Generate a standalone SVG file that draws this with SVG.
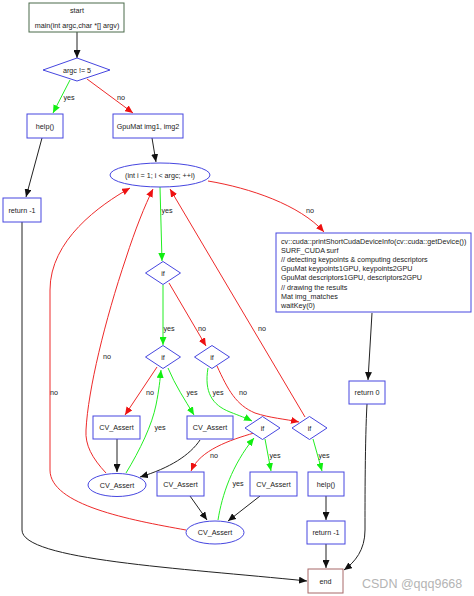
<svg xmlns="http://www.w3.org/2000/svg" width="474" height="596" viewBox="0 0 474 596">
<style>
text{font-family:"Liberation Sans",Arial,sans-serif;font-size:7.2px;fill:#222;}
.c{text-anchor:middle;}
.n{fill:#fff;stroke:#4646e0;stroke-width:1;}
.e{fill:none;stroke-width:1;}
.k{stroke:#222;marker-end:url(#ak);}
.g{stroke:#22ee22;marker-end:url(#ag);}
.r{stroke:#ee2a2a;marker-end:url(#ar);}
.wm{font-size:12.5px;fill:#b4b4b4;}
</style>
<defs>
<marker id="ak" markerUnits="userSpaceOnUse" markerWidth="9" markerHeight="7" refX="8" refY="3.5" orient="auto"><path d="M0,0 L8,3.5 L0,7 z" fill="#111"/></marker>
<marker id="ag" markerUnits="userSpaceOnUse" markerWidth="9" markerHeight="7" refX="8" refY="3.5" orient="auto"><path d="M0,0 L8,3.5 L0,7 z" fill="#11ee11"/></marker>
<marker id="ar" markerUnits="userSpaceOnUse" markerWidth="9" markerHeight="7" refX="8" refY="3.5" orient="auto"><path d="M0,0 L8,3.5 L0,7 z" fill="#ee1111"/></marker>
</defs>
<rect width="474" height="596" fill="#fff"/>
<g id="connectors">
<path class="e k" d="M77,32 L77,58"/>
<path class="e g" d="M70,80 L53,113"/>
<path class="e r" d="M87,79 L133,113"/>
<path class="e k" d="M42,138 L26,197"/>
<path class="e k" d="M22,222 L22,530 C22,560 180,568 307,581"/>
<path class="e k" d="M152,138 L156,162"/>
<path class="e g" d="M160,187 L162,261"/>
<path class="e r" d="M208,181 C250,188 300,205 324,232"/>
<path class="e g" d="M163,285 L163,345"/>
<path class="e r" d="M169,283 L206,346"/>
<path class="e r" d="M157,367 L125,415"/>
<path class="e g" d="M168,368 C175,385 185,400 194,415"/>
<path class="e g" d="M208,368 C204,392 212,405 230,412 C240,416 246,418 252,421"/>
<path class="e r" d="M217,366 C228,390 236,405 255,413 C270,418 285,419 299,422"/>
<path class="e k" d="M117,439 L117,472"/>
<path class="e k" d="M200,440 C190,455 170,468 140,477"/>
<path class="e g" d="M126,473 C140,450 152,425 156,405 C159,390 160,380 161,370"/>
<path class="e r" d="M106,473 C92,458 85,445 86,430 C88,390 105,320 126,258 C135,230 145,205 153,189"/>
<path class="e r" d="M254,433 C230,440 200,450 191,471"/>
<path class="e g" d="M265,439 L271,471"/>
<path class="e k" d="M190,496 L207,520"/>
<path class="e k" d="M260,496 L228,521"/>
<path class="e g" d="M218,520 C222,495 232,465 254,438"/>
<path class="e r" d="M186,530 C130,520 50,505 50,470 L50,290 C50,240 100,205 130,188"/>
<path class="e r" d="M305,417 L170,189"/>
<path class="e g" d="M313,439 L322,471"/>
<path class="e k" d="M326,496 L326,520"/>
<path class="e k" d="M326,544 L326,568"/>
<path class="e k" d="M372,313 L368,380"/>
<path class="e k" d="M367,404 C365,440 365,500 365,530 C365,550 355,562 344,570"/>
<text class="c" x="69" y="100">yes</text>
<text class="c" x="121" y="100">no</text>
<text class="c" x="167" y="213">yes</text>
<text class="c" x="310" y="213">no</text>
<text class="c" x="169" y="331">yes</text>
<text class="c" x="202" y="331">no</text>
<text class="c" x="262" y="331">no</text>
<text class="c" x="107" y="359">no</text>
<text class="c" x="54" y="395">no</text>
<text class="c" x="150" y="395">no</text>
<text class="c" x="192" y="395">yes</text>
<text class="c" x="218" y="395">yes</text>
<text class="c" x="243" y="395">no</text>
<text class="c" x="160" y="430">yes</text>
<text class="c" x="238" y="486">yes</text>
<text class="c" x="214" y="458">no</text>
<text class="c" x="275" y="458">yes</text>
<text class="c" x="324" y="458">yes</text>
</g>
<g id="start"><rect x="29" y="3" width="95" height="29" fill="#fff" stroke="#4a6a4a"/><text class="c" x="77" y="12.5">start</text><text class="c" x="77" y="27.5">main(int argc,char *[] argv)</text></g>
<g id="argc"><polygon class="n" points="43,70 77,58 110,70 77,81"/><text class="c" x="77" y="72.5">argc != 5</text></g>
<g id="help1"><rect class="n" x="27" y="114" width="36" height="24"/><text class="c" x="45" y="128.5">help()</text></g>
<g id="gpumat"><rect class="n" x="113" y="114" width="70" height="24"/><text class="c" x="148" y="128.5">GpuMat img1, img2</text></g>
<g id="ret1"><rect class="n" x="3" y="198" width="38" height="24"/><text class="c" x="22" y="212.5">return -1</text></g>
<g id="loop"><ellipse class="n" cx="160" cy="175" rx="50" ry="12"/><text class="c" x="160" y="177.5">(int i = 1; i &lt; argc; ++i)</text></g>
<g id="body"><rect class="n" x="276" y="233" width="195" height="79"/>
<text x="281" y="243.5">cv::cuda::printShortCudaDeviceInfo(cv::cuda::getDevice())</text>
<text x="281" y="252.7">SURF_CUDA surf</text>
<text x="281" y="261.9">// detecting keypoints &amp; computing descriptors</text>
<text x="281" y="271.1">GpuMat keypoints1GPU, keypoints2GPU</text>
<text x="281" y="280.3">GpuMat descriptors1GPU, descriptors2GPU</text>
<text x="281" y="289.5">// drawing the results</text>
<text x="281" y="298.7">Mat img_matches</text>
<text x="281" y="307.9">waitKey(0)</text></g>
<g id="if1"><polygon class="n" points="145.5,273 163,261.5 180.5,273 163,284.5"/><text class="c" x="163" y="275.5">if</text></g>
<g id="if2"><polygon class="n" points="145.5,357 163,345.5 180.5,357 163,368.5"/><text class="c" x="163" y="359.5">if</text></g>
<g id="if3"><polygon class="n" points="194.5,357 212,345.5 229.5,357 212,368.5"/><text class="c" x="212" y="359.5">if</text></g>
<g id="if4"><polygon class="n" points="245,428 262.5,416.5 280,428 262.5,439.5"/><text class="c" x="262.5" y="430.5">if</text></g>
<g id="if5"><polygon class="n" points="292,428 309.5,416.5 327,428 309.5,439.5"/><text class="c" x="309.5" y="430.5">if</text></g>
<g id="cva1"><rect class="n" x="93" y="416" width="47" height="23"/><text class="c" x="116.5" y="430">CV_Assert</text></g>
<g id="cva2"><rect class="n" x="187" y="416" width="46" height="23"/><text class="c" x="210" y="430">CV_Assert</text></g>
<g id="cve1"><ellipse class="n" cx="117" cy="485" rx="29" ry="11.5"/><text class="c" x="117" y="487.5">CV_Assert</text></g>
<g id="cva3"><rect class="n" x="157" y="472" width="47" height="24"/><text class="c" x="180.5" y="486.5">CV_Assert</text></g>
<g id="cva4"><rect class="n" x="250" y="472" width="47" height="24"/><text class="c" x="273.5" y="486.5">CV_Assert</text></g>
<g id="help2"><rect class="n" x="308" y="472" width="36" height="24"/><text class="c" x="326" y="486.5">help()</text></g>
<g id="cve2"><ellipse class="n" cx="215" cy="532.5" rx="29" ry="11.5"/><text class="c" x="215" y="535">CV_Assert</text></g>
<g id="ret2"><rect class="n" x="307" y="521" width="38" height="23"/><text class="c" x="326" y="535">return -1</text></g>
<g id="ret0"><rect class="n" x="349" y="381" width="36" height="23"/><text class="c" x="367" y="395">return 0</text></g>
<g id="end"><rect x="308" y="569" width="35" height="24" fill="#fff" stroke="#a86868"/><text class="c" x="325.5" y="583.5">end</text></g>
<text class="wm" x="362" y="588">CSDN @qqq9668</text>
</svg>
